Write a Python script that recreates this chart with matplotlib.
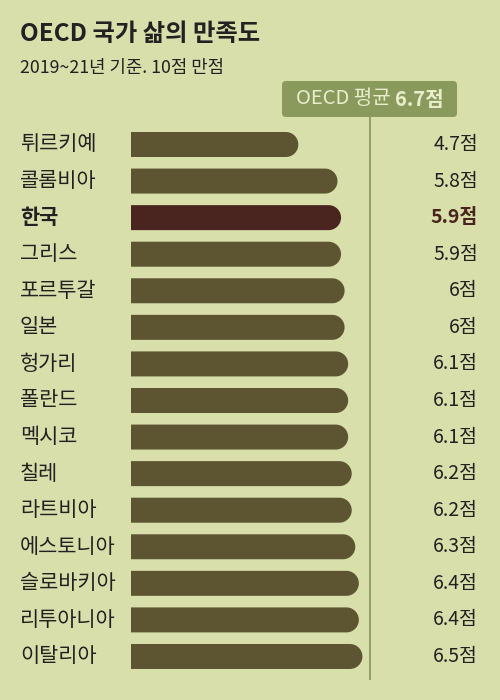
import matplotlib
matplotlib.use("Agg")
import numpy as np
import matplotlib.pyplot as plt
import matplotlib.transforms as mtransforms
from matplotlib.patches import FancyBboxPatch, Polygon

plt.rcParams['font.family'] = ['Noto Sans CJK KR', 'DejaVu Sans']

countries = ["튀르키예", "콜롬비아", "한국", "그리스", "포르투갈", "일본", "헝가리",
             "폴란드", "멕시코", "칠레", "라트비아", "에스토니아", "슬로바키아", "리투아니아", "이탈리아"]
values = [4.7, 5.8, 5.9, 5.9, 6.0, 6.0, 6.1, 6.1, 6.1, 6.2, 6.2, 6.3, 6.4, 6.4, 6.5]
value_labels = ["4.7점", "5.8점", "5.9점", "5.9점", "6점", "6점", "6.1점", "6.1점", "6.1점",
                "6.2점", "6.2점", "6.3점", "6.4점", "6.4점", "6.5점"]
highlight = "한국"
oecd_avg = 6.7
oecd_label = "OECD 평균 "
oecd_value_label = "6.7점"
title = "OECD 국가 삶의 만족도"
subtitle = "2019~21년 기준. 10점 만점"

BG = "#d8dfab"
BAR = "#5d5531"
HI = "#4a2520"
LINE = "#8d9a66"
BOX = "#8a9a5c"
BOXTXT = "#e8edcc"
TXT = "#222222"

W, H = 500, 700
fig = plt.figure(figsize=(W / 100, H / 100), dpi=100, facecolor=BG)

# axes: left 131px, right 480px, top 116px, bottom 680px
ax = fig.add_axes([131 / W, (H - 680) / H, (480 - 131) / W, (680 - 116) / H])
ax.set_facecolor(BG)
px_per_unit = 35.6
xmax = (480 - 131) / px_per_unit
ax.set_xlim(0, xmax)
row_px = 36.57
top = -(144.5 - 116) / row_px
bottom = top + (680 - 116) / row_px
ax.set_ylim(bottom, top)
ax.axis('off')

bar_h_px = 25
half_h = (bar_h_px / 2) / row_px
r_data = (bar_h_px / 2) / px_per_unit

ax.axvline(oecd_avg, color=LINE, lw=1.3, zorder=1)

theta = np.linspace(-np.pi / 2, np.pi / 2, 40)
for i, (c, v) in enumerate(zip(countries, values)):
    col = HI if c == highlight else BAR
    xc = v - r_data
    arc = np.column_stack([xc + r_data * np.cos(theta), i + half_h * np.sin(theta)])
    pts = np.vstack([[0, i - half_h], arc, [0, i + half_h]])
    ax.add_patch(Polygon(pts, closed=True, fc=col, ec='none', zorder=2))

trans_lab = mtransforms.blended_transform_factory(fig.transFigure, ax.transData)
for i, (c, lab) in enumerate(zip(countries, value_labels)):
    bold = c == highlight
    ax.text(20 / W, i, c, transform=trans_lab, ha='left', va='center',
            fontsize=15, color=TXT, fontweight='bold' if bold else 'normal')
    ax.text(478 / W, i, lab, transform=trans_lab, ha='right', va='center',
            fontsize=14, color=HI if bold else TXT,
            fontweight='bold' if bold else 'normal')

# OECD average label box (regular + bold text, centred on the average line)
fig.canvas.draw()
cx = ax.transData.transform((oecd_avg, 0))[0]
cy = H - 99
t1 = fig.text(0, 0, oecd_label, fontsize=14.5, color=BOXTXT, va='center', zorder=6)
t2 = fig.text(0, 0, oecd_value_label, fontsize=14.5, color=BOXTXT, fontweight='bold',
              va='center', zorder=6)
w1 = t1.get_window_extent().width
w2 = t2.get_window_extent().width
x0 = cx - (w1 + w2) / 2
t1.set_position((x0 / W, cy / H))
t2.set_position(((x0 + w1) / W, cy / H))
bw, bh = 175, 36
box = FancyBboxPatch(((cx - bw / 2) / W, (cy - bh / 2) / H), bw / W, bh / H,
                     boxstyle="round,pad=0,rounding_size=0.008",
                     transform=fig.transFigure, fc=BOX, ec='none', zorder=5,
                     mutation_aspect=W / H)
fig.patches.append(box)

fig.text(20 / W, 1 - 34 / H, title, fontsize=17.5, fontweight='bold', color=TXT,
         ha='left', va='center')
fig.text(20 / W, 1 - 68 / H, subtitle, fontsize=12.8, color=TXT, ha='left', va='center')

fig.savefig("out.png", dpi=100, facecolor=BG)
